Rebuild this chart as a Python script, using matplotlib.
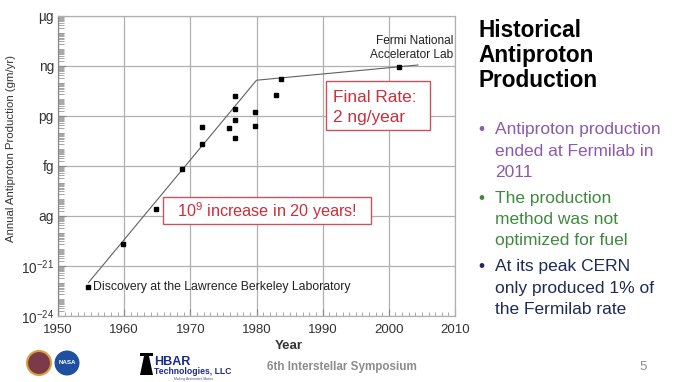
import matplotlib
matplotlib.use("Agg")
import matplotlib.pyplot as plt
from matplotlib.patches import Rectangle, Ellipse, Polygon
from matplotlib.ticker import FixedLocator, MultipleLocator, NullFormatter
import numpy as np

# ---------------- data ----------------
years = [1954.5, 1959.8, 1964.8, 1968.7, 1971.8, 1971.8, 1975.9, 1976.8,
         1976.8, 1976.8, 1976.8, 1979.8, 1979.8, 1982.9, 1983.7, 2001.6]
rates = [5.5e-23, 2.0e-20, 2.5e-18, 6.9e-16, 2.2e-13, 2.2e-14, 1.8e-13, 1.6e-11,
         2.8e-12, 5.5e-13, 5.0e-14, 1.7e-12, 2.4e-13, 1.8e-11, 1.7e-10, 8.7e-10]
trend_years = [1954.6, 1980.0, 2004.4]
trend_rates = [1.0e-22, 1.4e-10, 1.15e-9]
y_ticks = [1e-24, 1e-21, 1e-18, 1e-15, 1e-12, 1e-9, 1e-6]
y_labels = ["10$^{-24}$", "10$^{-21}$", "ag", "fg", "pg", "ng", "µg"]
x_ticks = [1950, 1960, 1970, 1980, 1990, 2000, 2010]
bullets = [
    (["Antiproton production", "ended at Fermilab in", "2011"], "#8c5aaa"),
    (["The production", "method was not", "optimized for fuel"], "#3f8a3f"),
    (["At its peak CERN", "only produced 1% of", "the Fermilab rate"], "#1e2b55"),
]
title_lines = ["Historical", "Antiproton", "Production"]

plt.rcParams["font.family"] = ["Liberation Sans", "DejaVu Sans"]
plt.rcParams["mathtext.fontset"] = "custom"
plt.rcParams["mathtext.rm"] = "Liberation Sans"
plt.rcParams["mathtext.it"] = "Liberation Sans"
plt.rcParams["mathtext.bf"] = "Liberation Sans:bold"

W, H = 675, 382
fig = plt.figure(figsize=(W / 100, H / 100), dpi=100)
fig.patch.set_facecolor("white")


def fx(x):
    return x / W


def fy(y):
    return 1 - y / H


L, R, T, B = 58, 455, 16, 316
ax = fig.add_axes([fx(L), fy(B), (R - L) / W, (B - T) / H])
ax.set_yscale("log")
ax.set_xlim(1950, 2010)
ax.set_ylim(1e-24, 1e-6)

grid_c = "#b0b0b0"
ax.grid(True, which="major", color=grid_c, lw=0.9)
ax.set_axisbelow(True)
for s in ["top", "right", "bottom"]:
    ax.spines[s].set_color(grid_c)
    ax.spines[s].set_linewidth(0.9)
ax.spines["left"].set_color("#888888")
ax.spines["left"].set_linewidth(0.9)

ax.yaxis.set_major_locator(FixedLocator(y_ticks))
ax.set_yticklabels(y_labels)
minor = [m * 10.0 ** e for e in range(-24, -6) for m in range(2, 10)] + \
        [10.0 ** e for e in range(-24, -6) if e % 3 != 0]
ax.yaxis.set_minor_locator(FixedLocator(minor))
ax.yaxis.set_minor_formatter(NullFormatter())
ax.set_xticks(x_ticks)
ax.xaxis.set_minor_locator(MultipleLocator(1))
ax.xaxis.set_minor_formatter(NullFormatter())

ax.tick_params(axis="y", which="major", direction="in", length=6, width=0.8,
               color="#888888", labelsize=9.8, labelcolor="#333333", pad=3)
ax.tick_params(axis="y", which="minor", direction="in", length=4, width=0.6,
               color="#999999")
ax.tick_params(axis="x", which="major", direction="in", length=5, width=0.8,
               color="#888888", labelsize=9.5, labelcolor="#333333", pad=6)
ax.tick_params(axis="x", which="minor", direction="in", length=3, width=0.6,
               color="#999999")

ax.plot(trend_years, trend_rates, color="#606060", lw=0.8, zorder=3)
ax.plot(years, rates, ls="none", marker="s", ms=3, color="black", zorder=4)

ax.set_ylabel("Annual Antiproton Production (gm/yr)", fontsize=8.2,
              color="#333333", labelpad=4)
ax.yaxis.set_label_coords((16 - L) / (R - L), (B - 149) / (B - T))

fig.text(fx(289), fy(346), "Year", fontsize=9.5, color="#333333",
         ha="center", va="center", fontweight="bold")

# annotations inside chart
fig.text(fx(93), fy(287), "Discovery at the Lawrence Berkeley Laboratory",
         fontsize=8.8, color="#222222", ha="left", va="center")
fig.text(fx(453), fy(41), "Fermi National", fontsize=8.6, color="#222222",
         ha="right", va="center")
fig.text(fx(453), fy(55), "Accelerator Lab", fontsize=8.6, color="#222222",
         ha="right", va="center")

red = "#c8303c"
box_edge = "#c45560"
fig.add_artist(Rectangle((fx(163), fy(224)), (371 - 163) / W, (224 - 197) / H,
                         transform=fig.transFigure, facecolor="white",
                         edgecolor=box_edge, lw=1.0, zorder=5))
fig.text(fx(267), fy(211), "10$^{9}$ increase in 20 years!", fontsize=11.7,
         color=red, ha="center", va="center", zorder=6)
fig.add_artist(Rectangle((fx(326), fy(130)), (430 - 326) / W, (130 - 81) / H,
                         transform=fig.transFigure, facecolor="white",
                         edgecolor=box_edge, lw=1.0, zorder=5))
fig.text(fx(333), fy(102), "Final Rate:", fontsize=12.4, color=red,
         ha="left", va="baseline", zorder=6)
fig.text(fx(333), fy(122), "2 ng/year", fontsize=12.4, color=red,
         ha="left", va="baseline", zorder=6)

# right side text
for i, t in enumerate(title_lines):
    fig.text(fx(478), fy(37 + 25 * i), t, fontsize=16.3, fontweight="bold",
             color="black", ha="left", va="baseline")

y = 134
for lines, col in bullets:
    fig.text(fx(478), fy(y), "•", fontsize=12.5, color=col, ha="left",
             va="baseline")
    for ln in lines:
        fig.text(fx(495), fy(y), ln, fontsize=12.5, color=col, ha="left",
                 va="baseline")
        y += 21.5
    y += 4

# footer
fig.text(fx(267), fy(367), "6th Interstellar Symposium", fontsize=8.4,
         color="#8c8c8c", ha="left", va="center", fontweight="bold")
fig.text(fx(643), fy(367), "5", fontsize=9.5, color="#8c8c8c", ha="center",
         va="center")

# logos (simple approximations)
fig.add_artist(Ellipse((fx(39), fy(363)), 24 / W, 24 / H, transform=fig.transFigure,
                       facecolor="#7a3a48", edgecolor="#d8a040", lw=1.5))
fig.add_artist(Ellipse((fx(67), fy(363)), 25 / W, 25 / H, transform=fig.transFigure,
                       facecolor="#1f4fa0", edgecolor="none"))
fig.text(fx(67), fy(363), "NASA", fontsize=4.5, color="white",
         ha="center", va="center", fontweight="bold")
fig.add_artist(Polygon([(fx(140), fy(375)), (fx(144), fy(356)), (fx(149), fy(356)),
                        (fx(153), fy(375))], closed=True, transform=fig.transFigure,
                       facecolor="black", edgecolor="none"))
fig.add_artist(Rectangle((fx(140), fy(356)), 13 / W, 3 / H, transform=fig.transFigure,
                         facecolor="black", edgecolor="none"))
fig.text(fx(154), fy(362), "HBAR", fontsize=9, color="#1c2a88", ha="left",
         va="center", fontweight="bold")
fig.text(fx(154), fy(371), "Technologies, LLC", fontsize=6.2, color="#1c2a88",
         ha="left", va="center", fontweight="bold")
fig.text(fx(194), fy(379), "Making Antimatter Matter", fontsize=2.5,
         color="#555588", ha="center", va="center")

fig.savefig("out.png", dpi=100, facecolor="white")
